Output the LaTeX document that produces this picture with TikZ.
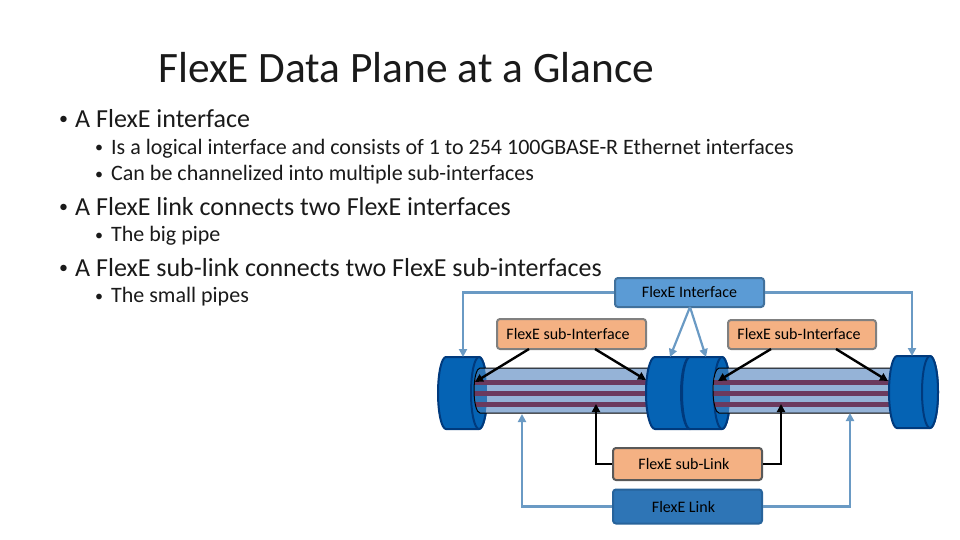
\documentclass[tikz,border=0pt]{standalone}
\usepackage{fontspec}
\setmainfont{Carlito}
\usetikzlibrary{arrows.meta}
\definecolor{ttl}{HTML}{1A1A1A}
\definecolor{ifc}{HTML}{5B9BD5}
\definecolor{ifcb}{HTML}{41719C}
\definecolor{lnk}{HTML}{2E75B6}
\definecolor{org}{HTML}{F4B183}
\definecolor{pipe}{HTML}{95B3D7}
\definecolor{strp}{HTML}{6B3A5E}
\definecolor{disc}{HTML}{0563B4}
\definecolor{discb}{HTML}{003A7D}
\definecolor{conn}{HTML}{6A9AC4}
\tikzset{
  x=1pt,y=-1pt,
  titletxt/.style={anchor=base west,inner sep=0pt,font=\fontsize{43.4}{44}\selectfont,text=ttl},
  lone/.style={anchor=base west,inner sep=0pt,font=\fontsize{26}{26}\selectfont,text=ttl},
  ltwo/.style={anchor=base west,inner sep=0pt,font=\fontsize{22}{22}\selectfont,text=ttl},
  bulone/.style={anchor=base west,inner sep=0pt,font=\fontsize{18}{18}\selectfont,text=ttl},
  bultwo/.style={anchor=base west,inner sep=0pt,font=\fontsize{16}{16}\selectfont,text=ttl},
  boxbase/.style={rounded corners=3pt,line width=2pt,inner sep=0pt,font=\fontsize{16}{16}\selectfont,text=black},
  ifcbox/.style={boxbase,fill=ifc,draw=ifcb},
  orgbox/.style={boxbase,fill=org,draw=gray},
  subbox/.style={boxbase,fill=org,draw=gray!70!black},
  lnkbox/.style={boxbase,fill=lnk,draw=lnk!85!black},
  blueline/.style={draw=conn,line width=2.2pt,-{Triangle[length=8pt,width=8pt]}},
  blackline/.style={draw=black,line width=2.4pt,-{Triangle[length=8pt,width=8pt]}},
  discshape/.style={fill=disc,draw=discb,line width=2pt},
  pipeshape/.style={draw=black,line width=1pt},
  stripe/.style={fill=strp,draw=none},
}
\newcommand{\mydisc}[4]{% left cx, right cx, rx, cy
  \path[discshape] (#1,#4-36) -- (#2,#4-36) arc[start angle=90,end angle=-90,x radius=#3pt,y radius=36pt] -- (#1,#4+36) arc[start angle=270,end angle=90,x radius=#3pt,y radius=36pt] -- cycle;
  \path[discshape] (#2,#4) ellipse[x radius=#3pt,y radius=36pt];
}
\newcommand{\pipeoutline}[2]{(#1,368) -- (#2,368) -- (#2,413) -- (#1,413) arc[start angle=270,end angle=90,x radius=6pt,y radius=22.5pt] -- cycle}
\newcommand{\mypipe}[3]{% from x, to x, centre x of the disc face
  \fill[pipe] \pipeoutline{#1}{#2};
  \begin{scope}
    \clip (#3,393) ellipse[x radius=8pt,y radius=36pt];
    \fill[lnk] \pipeoutline{#1}{#2};
  \end{scope}
  \begin{scope}
    \clip \pipeoutline{#1}{#2};
    \fill[stripe] (#1-10,380) rectangle (#2,385);
    \fill[stripe] (#1-10,391) rectangle (#2,396);
    \fill[stripe] (#1-10,401.5) rectangle (#2,406.5);
  \end{scope}
  \path[pipeshape] \pipeoutline{#1}{#2};
}
\begin{document}
\begin{tikzpicture}
\useasboundingbox[fill=white] (0,0) rectangle (960,540);
\node[titletxt] (title) at (158,83) {FlexE Data Plane at a Glance};
\node[bulone] (b1) at (59,125) {•}; \node[lone] (t1) at (75,128) {A FlexE interface};
\node[bultwo] (b2) at (95,153) {•}; \node[ltwo] (t2) at (111,154.5) {Is a logical interface and consists of 1 to 254 100GBASE-R Ethernet interfaces};
\node[bultwo] (b3) at (95,179) {•}; \node[ltwo] (t3) at (111,180.5) {Can be channelized into multiple sub-interfaces};
\node[bulone] (b4) at (59,212) {•}; \node[lone] (t4) at (75,215) {A FlexE link connects two FlexE interfaces};
\node[bultwo] (b5) at (95,240) {•}; \node[ltwo] (t5) at (111,241.5) {The big pipe};
\node[bulone] (b6) at (59,273) {•}; \node[lone] (t6) at (75,276) {A FlexE sub-link connects two FlexE sub-interfaces};
\node[bultwo] (b7) at (95,301) {•}; \node[ltwo] (t7) at (111,302.5) {The small pipes};
% left disc and first pipe
\mydisc{446}{479}{8}{393}
\mypipe{480}{655}{479}
% middle discs and second pipe
\mydisc{655}{690}{9}{393}
\mydisc{690}{722}{8}{393}
\mypipe{719}{897}{722}
% right disc
\mydisc{897}{930}{8}{392}
\node[ifcbox,minimum width=149pt,minimum height=29pt] (ifa) at (689.5,292.5) {FlexE Interface};
\node[orgbox,minimum width=149pt,minimum height=30pt] (sl) at (571.5,334) {FlexE sub-Interface\kern7pt\relax};
\node[orgbox,minimum width=148pt,minimum height=29pt] (sr) at (802,334.5) {FlexE sub-Interface\kern6pt\relax};
\node[subbox,minimum width=149pt,minimum height=32pt] (slk) at (687.5,464) {FlexE sub-Link\kern7pt\relax};
\node[lnkbox,minimum width=149pt,minimum height=34pt] (lk) at (687.5,506.5) {FlexE Link\kern8pt\relax};
\coordinate (dl) at (463,357);
\coordinate (dr) at (912,356);
\coordinate (dm1) at (670,357);
\coordinate (dm2) at (706,357);
\coordinate (ifb) at (690,307);
\coordinate (la) at (529,349);
\coordinate (lb) at (595,349);
\coordinate (ra) at (771,349);
\coordinate (rb) at (836,349);
\coordinate (lt1) at (475,382);
\coordinate (lt2) at (646,380);
\coordinate (rt1) at (718,381);
\coordinate (rt2) at (888,381);
\coordinate (sp1) at (596,404);
\coordinate (sp2) at (781,404);
\coordinate (bp1) at (522,414);
\coordinate (bp2) at (850,413);
\draw[blueline] (ifa.west) -| (dl);
\draw[blueline] (ifa.east) -| (dr);
\draw[blueline] (ifb) -- (dm1);
\draw[blueline] (ifb) -- (dm2);
\draw[blackline] (la) -- (lt1);
\draw[blackline] (lb) -- (lt2);
\draw[blackline] (ra) -- (rt1);
\draw[blackline] (rb) -- (rt2);
\draw[blackline] (slk.west) -| (sp1);
\draw[blackline] (slk.east) -| (sp2);
\draw[blueline] (lk.west) -| (bp1);
\draw[blueline] (lk.east) -| (bp2);
\end{tikzpicture}
\end{document}
